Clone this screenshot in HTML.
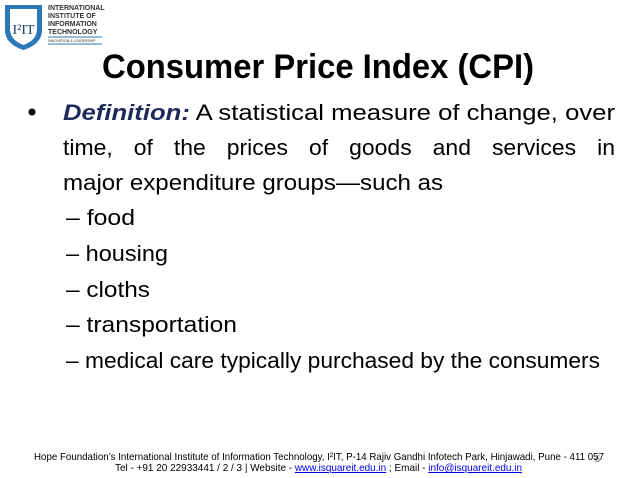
<!DOCTYPE html>
<html><head><meta charset="utf-8"><style>
html,body{margin:0;padding:0;background:#fff;}
svg{display:block;font-family:"Liberation Sans",sans-serif;}
</style></head><body>
<svg width="638" height="478" viewBox="0 0 638 478">
<g>
  <path d="M5 5 L42 5 L42 30 Q42 44 23.5 50 Q5 44 5 30 Z" fill="#2a78b8"/>
  <path d="M10 9 L37 9 L37 29 Q37 40 23.5 45 Q10 40 10 29 Z" fill="#fff"/>
  <text x="23.5" y="34" font-size="14" font-family="Liberation Serif,serif" text-anchor="middle" fill="#1b3a6b">I²IT</text>
  <text x="48" y="10" font-size="7" font-weight="bold" fill="#333">INTERNATIONAL</text>
  <text x="48" y="18" font-size="7" font-weight="bold" fill="#333">INSTITUTE OF</text>
  <text x="48" y="26" font-size="7" font-weight="bold" fill="#333">INFORMATION</text>
  <text x="48" y="34" font-size="7" font-weight="bold" fill="#333">TECHNOLOGY</text>
  <line x1="48" y1="37" x2="102" y2="37" stroke="#2a78b8" stroke-width="1"/>
  <text x="48" y="42" font-size="3.5" fill="#333">INNOVATION &amp; LEADERSHIP</text>
  <line x1="48" y1="44" x2="102" y2="44" stroke="#2a78b8" stroke-width="1"/>
</g>
<text x="102" y="78" font-size="34" font-weight="bold" fill="#000" textLength="432" lengthAdjust="spacingAndGlyphs">Consumer Price Index (CPI)</text>
<g font-size="22" fill="#000">
  <circle cx="32" cy="112" r="3.5" fill="#000"/>
  <text x="63" y="120" textLength="552" lengthAdjust="spacingAndGlyphs"><tspan font-weight="bold" font-style="italic" fill="#1f2a5a">Definition:</tspan> A statistical measure of change, over</text>
  <text x="63" y="155" textLength="552" lengthAdjust="spacingAndGlyphs" word-spacing="14">time, of the prices of goods and services in</text>
  <text x="63" y="190" textLength="380" lengthAdjust="spacingAndGlyphs">major expenditure groups—such as</text>
</g>
<g font-size="22" fill="#000">
  <text x="66" y="225" textLength="69" lengthAdjust="spacingAndGlyphs">– food</text>
  <text x="66" y="261" textLength="102" lengthAdjust="spacingAndGlyphs">– housing</text>
  <text x="66" y="297" textLength="84" lengthAdjust="spacingAndGlyphs">– cloths</text>
  <text x="66" y="332" textLength="171" lengthAdjust="spacingAndGlyphs">– transportation</text>
  <text x="66" y="368" textLength="534" lengthAdjust="spacingAndGlyphs">– medical care typically purchased by the consumers</text>
</g>
<g font-size="10.5" fill="#000">
  <text x="34" y="460" textLength="570" lengthAdjust="spacingAndGlyphs">Hope Foundation’s International Institute of Information Technology, I²IT, P-14 Rajiv Gandhi Infotech Park, Hinjawadi, Pune - 411 057</text>
  <text x="115" y="471" textLength="407" lengthAdjust="spacingAndGlyphs">Tel - +91 20 22933441 / 2 / 3  |  Website - <tspan fill="#0000ee" text-decoration="underline">www.isquareit.edu.in</tspan> ; Email - <tspan fill="#0000ee" text-decoration="underline">info@isquareit.edu.in</tspan></text>
  <text x="595" y="462" font-size="9" fill="#555">5</text>
</g>
</svg>
</body></html>
